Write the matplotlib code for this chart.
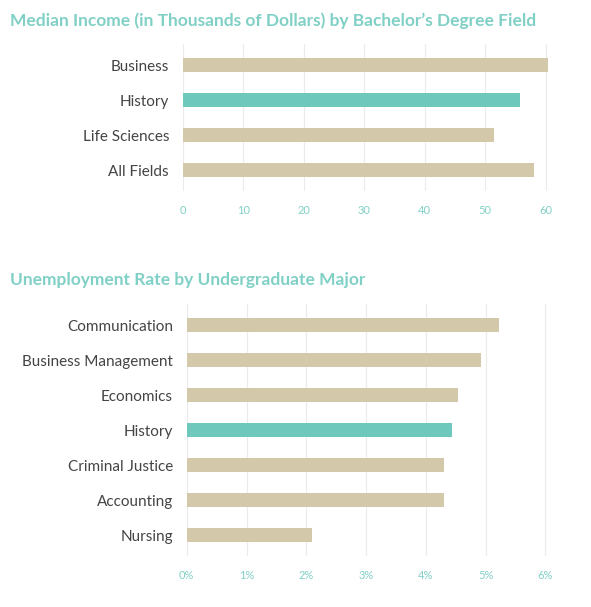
import matplotlib
matplotlib.use("Agg")
import matplotlib.pyplot as plt
from matplotlib.ticker import FuncFormatter

plt.rcParams['font.family'] = ['Lato', 'DejaVu Sans']

TAN = '#d3c8aa'
TEAL = '#6ec8bc'
TITLE = '#80d0c6'
TEXT = '#444444'

income_fields = ['Business', 'History', 'Life Sciences', 'All Fields']
income_values = [60.4, 55.7, 51.4, 58.0]

unemp_majors = ['Communication', 'Business Management', 'Economics', 'History',
                'Criminal Justice', 'Accounting', 'Nursing']
unemp_values = [5.23, 4.92, 4.53, 4.43, 4.31, 4.31, 2.1]


def draw(ax, labels, values, ticks, fmt, xmax):
    colors = [TEAL if l == 'History' else TAN for l in labels]
    ax.barh(range(len(labels)), values, height=0.4, color=colors, zorder=2)
    ax.set_yticks(range(len(labels)))
    ax.set_yticklabels(labels, fontsize=11, color=TEXT)
    ax.set_ylim(len(labels) - 0.4, -0.6)
    ax.set_xlim(0, xmax)
    ax.set_xticks(ticks)
    ax.xaxis.set_major_formatter(FuncFormatter(fmt))
    ax.tick_params(axis='x', colors=TITLE, labelsize=8, length=0, pad=10)
    ax.tick_params(axis='y', length=0, pad=10)
    ax.grid(axis='x', color='#ebebeb', linewidth=0.8, zorder=0)
    for s in ax.spines.values():
        s.set_visible(False)


fig = plt.figure(figsize=(5.91, 6.07), dpi=100)

ax1 = fig.add_axes([0.3096, 0.685, 0.624, 0.242])
draw(ax1, income_fields, income_values, range(0, 61, 10),
     lambda v, p: f'{v:.0f}', 61)

ax2 = fig.add_axes([0.316, 0.084, 0.617, 0.415])
draw(ax2, unemp_majors, unemp_values, range(0, 7),
     lambda v, p: f'{v:.0f}%', 6.1)

fig.text(0.017, 0.966, "Median Income (in Thousands of Dollars) by Bachelor’s Degree Field",
         fontsize=12.5, fontweight='bold', color=TITLE, va='center')
fig.text(0.017, 0.539, "Unemployment Rate by Undergraduate Major",
         fontsize=12.5, fontweight='bold', color=TITLE, va='center')

fig.savefig('out.png', dpi=100, facecolor='white')
